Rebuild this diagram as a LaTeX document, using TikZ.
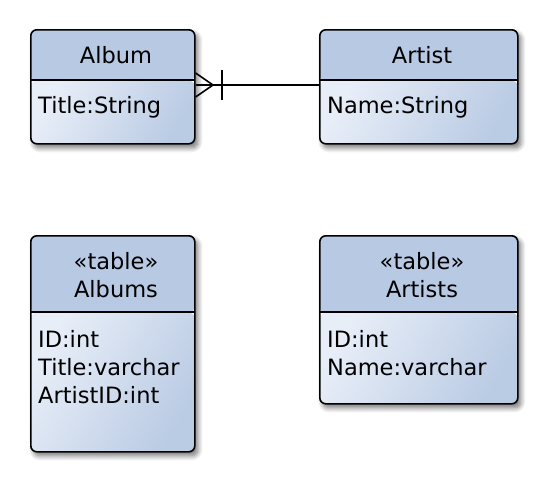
\documentclass[tikz,border=0pt]{standalone}
\usepackage{fontspec}
\setmainfont{DejaVu Sans}
\usetikzlibrary{shadows.blur}
\definecolor{headcol}{RGB}{184,201,227}
\definecolor{bodylight}{RGB}{232,238,248}
\definecolor{bodydark}{RGB}{186,203,228}
\tikzset{
  tablebox/.style={draw=black, line width=1.6pt, rounded corners=6pt, inner sep=0pt,
    anchor=north west, fill=white,
    blur shadow={shadow xshift=3pt, shadow yshift=-4pt, shadow blur radius=5pt, shadow blur steps=8, shadow opacity=55}},
  txt/.style={font=\fontsize{22.5}{28}\selectfont, inner sep=0pt},
  sepline/.style={line width=1.6pt},
  conn/.style={line width=1.6pt}
}
\newcommand{\boxfill}[1]{%
  \fill[headcol] (path picture bounding box.north west) rectangle ([yshift=-#1pt]path picture bounding box.north east);
  \shade[left color=bodylight, right color=bodydark, shading angle=60]
    ([yshift=-#1pt]path picture bounding box.north west) rectangle (path picture bounding box.south east);
}
\begin{document}
\begin{tikzpicture}[x=1pt,y=-1pt]
\useasboundingbox (0,0) rectangle (547,480);
% Album
\node[tablebox, minimum width=164pt, minimum height=114pt, path picture={\boxfill{51}}] (album) at (30,29) {};
\draw[sepline] (30,80) coordinate (albsepL) -- (194,80) coordinate (albsepR);
\node[txt, anchor=base] (albumT) at (116,63) {Album};
\node[txt, anchor=base west] (albumA) at (38,113) {Title:String};
% Artist
\node[tablebox, minimum width=198pt, minimum height=114pt, path picture={\boxfill{51}}] (artist) at (319,29) {};
\draw[sepline] (319,80) coordinate (artsepL) -- (517,80) coordinate (artsepR);
\node[txt, anchor=base] (artistT) at (422,63) {Artist};
\node[txt, anchor=base west] (artistA) at (327,113) {Name:String};
% Albums
\node[tablebox, minimum width=164pt, minimum height=216pt, path picture={\boxfill{77}}] (albums) at (30,235) {};
\draw[sepline] (30,312) coordinate (albssepL) -- (194,312) coordinate (albssepR);
\node[txt, anchor=base] (albumsS) at (116,269) {«table»};
\node[txt, anchor=base] (albumsT) at (116,297) {Albums};
\node[txt, anchor=base west] (albumsA) at (38,347) {ID:int};
\node[txt, anchor=base west] (albumsB) at (38,375) {Title:varchar};
\node[txt, anchor=base west] (albumsC) at (38,403) {ArtistID:int};
% Artists
\node[tablebox, minimum width=198pt, minimum height=168pt, path picture={\boxfill{77}}] (artists) at (319,235) {};
\draw[sepline] (319,312) coordinate (artssepL) -- (517,312) coordinate (artssepR);
\node[txt, anchor=base] (artistsS) at (422,269) {«table»};
\node[txt, anchor=base] (artistsT) at (422,297) {Artists};
\node[txt, anchor=base west] (artistsA) at (327,347) {ID:int};
\node[txt, anchor=base west] (artistsB) at (327,375) {Name:varchar};
% connector: crow's foot (many) at Album, one at Artist
\coordinate (cfTip) at (213,85);
\draw[conn] (cfTip) -- (album.east |- 0,85);
\draw[conn] (cfTip) -- ([yshift=-12pt]album.east |- 0,85);
\draw[conn] (cfTip) -- ([yshift=12pt]album.east |- 0,85);
\draw[conn] (cfTip) -- (artist.west |- 0,85);
\draw[conn] (222,70) coordinate (barT) -- (222,100) coordinate (barB);
\end{tikzpicture}
\end{document}
